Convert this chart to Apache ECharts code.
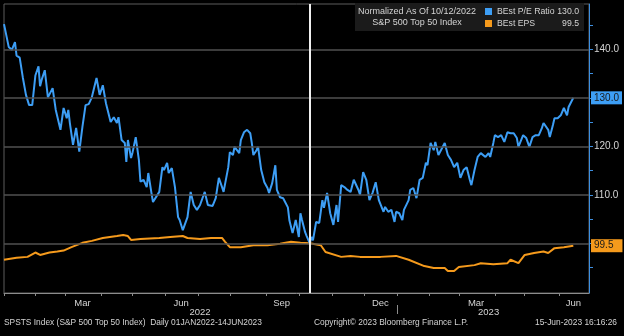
<!DOCTYPE html>
<html><head><meta charset="utf-8">
<script src="https://cdn.jsdelivr.net/npm/echarts@6/dist/echarts.min.js"></script>
<style>html,body{margin:0;padding:0;background:#000;}#c{width:624px;height:336px;}</style>
</head><body><div id="c"></div>
<script>
// ---- data ----
const holidays = ['2022-01-17','2022-02-21','2022-04-15','2022-05-30','2022-06-20','2022-07-04','2022-09-05','2022-11-24','2022-12-26','2023-01-02','2023-01-16','2023-02-20','2023-04-07','2023-05-29','2023-06-19'];
const firstDay = '2022-01-03', lastDay = '2023-06-29';
const normDate = '2022-10-12';
const monthLabels = [['2022-03-16','Mar'],['2022-06-15','Jun'],['2022-09-16','Sep'],['2022-12-15','Dec'],['2023-03-16','Mar'],['2023-06-14','Jun']];
const yearLabels = [['2022-07-05','2022'],['2023-03-28','2023']];
const yearBreak = '2023-01-03';
const yLabelValues = [110,120,130,140];
const yTickValues = [95,100,105,110,115,120,125,130,135,140,145];
const gridValues = [100,110,120,130,140];

const peData = [
 ['2022-01-03',145.2],['2022-01-06',140.5],['2022-01-10',139.9],['2022-01-12',141.5],['2022-01-13',138.7],['2022-01-18',138.3],['2022-01-20',134.2],['2022-01-24',130.6],['2022-01-26',128.5],['2022-01-28',128.5],
 ['2022-02-01',134.6],['2022-02-03',136.5],['2022-02-04',132.4],['2022-02-07',133.7],['2022-02-09',135.7],['2022-02-11',130.1],['2022-02-16',132.0],['2022-02-18',127.5],['2022-02-22',127.1],['2022-02-24',123.4],['2022-02-28',127.9],
 ['2022-03-02',125.8],['2022-03-03',127.5],['2022-03-04',124.8],['2022-03-08',120.3],['2022-03-10',123.8],['2022-03-14',118.9],['2022-03-16',124.0],['2022-03-18',128.5],['2022-03-22',128.7],['2022-03-24',130.1],['2022-03-29',134.1],['2022-03-31',130.6],
 ['2022-04-04',132.6],['2022-04-06',128.9],['2022-04-07',129.1],['2022-04-11',125.0],['2022-04-13',126.0],['2022-04-18',124.8],['2022-04-19',126.0],['2022-04-21',121.3],['2022-04-25',120.7],['2022-04-26',116.8],['2022-04-27',121.3],['2022-04-29',117.6],
 ['2022-05-02',118.8],['2022-05-04',121.9],['2022-05-06',117.2],['2022-05-09',112.7],['2022-05-11',113.1],['2022-05-13',111.6],['2022-05-16',114.5],['2022-05-18',110.4],['2022-05-19',108.5],['2022-05-25',110.6],['2022-05-27',115.7],['2022-05-31',115.1],
 ['2022-06-02',116.6],['2022-06-03',114.5],['2022-06-07',115.5],['2022-06-09',111.6],['2022-06-13',105.4],['2022-06-14',104.8],['2022-06-16',102.7],['2022-06-17',102.7],['2022-06-22',105.4],['2022-06-24',110.6],['2022-06-28',107.9],['2022-06-30',106.9],
 ['2022-07-05',107.9],['2022-07-08',110.6],['2022-07-12',107.9],['2022-07-15',107.7],['2022-07-19',109.3],['2022-07-21',113.5],['2022-07-25',111.6],['2022-07-26',110.6],['2022-07-29',115.7],
 ['2022-08-01',118.8],['2022-08-03',118.2],['2022-08-04',119.9],['2022-08-09',118.6],['2022-08-10',121.3],['2022-08-12',122.9],['2022-08-16',123.4],['2022-08-18',122.7],['2022-08-19',120.7],['2022-08-22',118.2],['2022-08-24',119.2],['2022-08-25',119.9],['2022-08-29',115.1],['2022-08-31',112.6],
 ['2022-09-02',111.4],['2022-09-06',110.4],['2022-09-08',112.4],['2022-09-12',116.1],['2022-09-13',111.0],['2022-09-15',109.5],['2022-09-19',109.3],['2022-09-22',107.4],['2022-09-23',104.7],['2022-09-27',102.1],['2022-09-29',104.8],
 ['2022-10-03',101.3],['2022-10-04',106.2],['2022-10-05',104.8],['2022-10-07',102.3],['2022-10-10',101.5],['2022-10-12',100.0],['2022-10-13',101.3],['2022-10-14',100.6],['2022-10-18',104.4],['2022-10-20',104.2],['2022-10-24',108.9],['2022-10-25',107.3],['2022-10-27',110.4],['2022-10-31',106.2],
 ['2022-11-02',103.8],['2022-11-04',107.9],['2022-11-07',104.4],['2022-11-09',112.0],['2022-11-11',111.6],['2022-11-15',111.0],['2022-11-17',110.6],['2022-11-21',113.1],['2022-11-25',111.0],['2022-11-28',110.0],['2022-11-30',114.7],
 ['2022-12-02',113.1],['2022-12-06',108.9],['2022-12-08',110.4],['2022-12-12',112.6],['2022-12-14',108.9],['2022-12-19',106.5],['2022-12-20',107.5],['2022-12-22',106.5],['2022-12-27',106.9],['2022-12-29',104.4],['2022-12-30',106.5],
 ['2023-01-04',106.2],['2023-01-06',104.8],['2023-01-09',106.9],['2023-01-12',108.9],['2023-01-13',111.0],['2023-01-18',111.4],['2023-01-20',109.3],['2023-01-24',113.1],['2023-01-26',113.5],['2023-01-30',116.6],['2023-01-31',116.1],
 ['2023-02-02',120.7],['2023-02-06',119.2],['2023-02-07',120.9],['2023-02-09',118.2],['2023-02-15',120.7],['2023-02-17',118.2],['2023-02-22',117.2],['2023-02-24',115.7],['2023-02-28',116.6],
 ['2023-03-02',113.5],['2023-03-06',115.1],['2023-03-08',115.7],['2023-03-10',113.1],['2023-03-13',112.0],['2023-03-15',115.1],['2023-03-17',117.8],['2023-03-21',118.6],['2023-03-22',118.6],['2023-03-24',117.8],['2023-03-28',118.6],['2023-03-29',117.8],['2023-03-31',120.7],
 ['2023-04-03',122.3],['2023-04-05',121.9],['2023-04-10',122.3],['2023-04-12',120.9],['2023-04-14',122.9],['2023-04-18',122.7],['2023-04-20',122.7],['2023-04-24',121.7],['2023-04-25',119.9],['2023-04-28',122.3],
 ['2023-05-02',121.7],['2023-05-04',119.9],['2023-05-08',121.9],['2023-05-10',122.3],['2023-05-12',122.3],['2023-05-16',123.8],['2023-05-17',124.8],['2023-05-22',123.4],['2023-05-23',121.9],['2023-05-25',124.4],['2023-05-26',125.8],['2023-05-31',125.8],
 ['2023-06-02',126.4],['2023-06-06',127.9],['2023-06-08',126.4],['2023-06-09',128.1],['2023-06-14',130.0]
];

const epsData = [
 ['2022-01-03',96.6],['2022-01-13',97.0],['2022-01-25',97.2],['2022-02-01',98.1],['2022-02-04',97.6],['2022-02-14',98.1],['2022-02-22',98.3],['2022-02-28',98.5],
 ['2022-03-07',99.2],['2022-03-16',100.1],['2022-03-24',100.5],['2022-04-04',101.1],['2022-04-18',101.5],['2022-04-22',101.7],['2022-04-27',101.5],['2022-04-29',100.7],
 ['2022-05-09',100.9],['2022-05-25',101.1],['2022-06-06',101.3],['2022-06-16',101.5],['2022-06-22',101.1],['2022-07-05',100.9],['2022-07-14',101.1],['2022-07-25',101.1],['2022-07-27',100.3],
 ['2022-08-01',99.2],['2022-08-10',99.2],['2022-08-22',99.6],['2022-09-02',99.6],['2022-09-15',99.9],['2022-09-26',100.3],['2022-10-04',100.1],['2022-10-12',100.0],
 ['2022-10-21',99.6],['2022-10-26',98.2],['2022-11-09',97.2],['2022-11-17',97.4],['2022-11-28',97.2],['2022-12-15',97.2],['2022-12-30',97.4],
 ['2023-01-12',96.6],['2023-01-27',95.3],['2023-02-06',94.9],['2023-02-15',94.9],['2023-02-17',94.3],['2023-02-24',94.3],['2023-03-01',95.1],['2023-03-15',95.5],['2023-03-21',95.9],['2023-03-31',95.7],
 ['2023-04-14',95.9],['2023-04-18',96.6],['2023-04-25',95.9],['2023-05-01',97.6],['2023-05-09',98.0],['2023-05-17',98.3],['2023-05-22',98.0],['2023-05-26',99.0],['2023-06-06',99.2],['2023-06-14',99.5]
];

// ---- build trading-day categories ----
const cats = [];
(function(){
  const hol = new Set(holidays);
  let d = new Date(firstDay + 'T00:00:00Z');
  const end = new Date(lastDay + 'T00:00:00Z');
  while (d <= end) {
    const wd = d.getUTCDay();
    const s = d.toISOString().slice(0,10);
    if (wd !== 0 && wd !== 6 && !hol.has(s)) cats.push(s);
    d = new Date(d.getTime() + 86400000);
  }
})();
const catIndex = {}; cats.forEach((c,i)=>catIndex[c]=i);
const toIdx = arr => arr.map(([d,v]) => [catIndex[d], v]);
const monthMap = new Map(monthLabels), yearMap = new Map(yearLabels);
const monthStart = new Set(cats.filter((c,i)=> i===0 || c.slice(0,7)!==cats[i-1].slice(0,7)));

const FONT = "'Liberation Sans',Arial,sans-serif";
const TXT = '#d4d4d4';
const BLUE = '#3d9ef5', ORANGE = '#f59a1c';
const lastPE = peData[peData.length-1][1], lastEPS = epsData[epsData.length-1][1];

const chart = echarts.init(document.getElementById('c'), null, {renderer:'canvas'});
chart.setOption({
  animation: false,
  backgroundColor: '#000',
  textStyle: {fontFamily: FONT},
  grid: {left: 4, right: 35, top: 4, bottom: 43, show: true, backgroundColor: '#000', borderColor: '#5c5c5c', borderWidth: 1},
  xAxis: [{
    type: 'category', data: cats, boundaryGap: false,
    axisLine: {lineStyle: {color: '#8c8c8c', width: 1}},
    axisTick: {interval: (i, v) => monthStart.has(v), length: 3, lineStyle: {color: '#8c8c8c'}},
    axisLabel: {interval: (i, v) => monthMap.has(v), formatter: v => monthMap.get(v) || '', color: TXT, fontSize: 9.5, fontFamily: FONT, margin: 5},
    splitLine: {show: false}
  },{
    type: 'category', data: cats, boundaryGap: false, position: 'bottom', offset: 12,
    axisLine: {show: false},
    axisTick: {show: true, interval: (i, v) => v === yearBreak, length: 9, lineStyle: {color: '#8c8c8c'}},
    axisLabel: {interval: (i, v) => yearMap.has(v), formatter: v => yearMap.get(v) || '', color: TXT, fontSize: 9.5, fontFamily: FONT, margin: 2},
    splitLine: {show: false}
  }],
  yAxis: {
    type: 'value', position: 'right', min: 89.75, max: 149.35,
    splitLine: {show: false},
    axisLine: {show: true, lineStyle: {color: '#3d8fe0', width: 1}},
    axisTick: {show: true, customValues: yTickValues, length: 4, lineStyle: {color: '#3d8fe0'}},
    axisLabel: {customValues: yLabelValues, formatter: v => v.toFixed(1), color: TXT, fontSize: 10, fontFamily: FONT, margin: 5}
  },
  legend: {
    left: 485, top: 6, orient: 'vertical', padding: 0, itemGap: 1, itemWidth: 7, itemHeight: 7, icon: 'rect',
    data: ['BEst P/E Ratio', 'BEst EPS'],
    formatter: n => '{n|' + n + '}{v|' + (n === 'BEst P/E Ratio' ? lastPE : lastEPS).toFixed(1) + '}',
    textStyle: {color: TXT, fontFamily: FONT, fontSize: 8.7, lineHeight: 11,
      rich: {n: {width: 56, color: TXT, fontFamily: FONT, fontSize: 8.7}, v: {width: 26, align: 'right', color: TXT, fontFamily: FONT, fontSize: 8.7}}},
    z: 20
  },
  graphic: [
    {type: 'rect', shape: {x: 355, y: 3, width: 229, height: 28}, style: {fill: '#1b1b1b'}, z: 10},
    {type: 'text', x: 417, y: 12, z: 11, style: {text: 'Normalized As Of 10/12/2022', fill: TXT, font: '9px ' + FONT, align: 'center', verticalAlign: 'middle'}},
    {type: 'text', x: 417, y: 23, z: 11, style: {text: 'S&P 500 Top 50 Index', fill: TXT, font: '9px ' + FONT, align: 'center', verticalAlign: 'middle'}},
    {type: 'text', x: 4, y: 323, z: 11, style: {text: 'SPSTS Index (S&P 500 Top 50 Index)  Daily 01JAN2022-14JUN2023', fill: TXT, font: '8.4px ' + FONT, align: 'left', verticalAlign: 'middle'}},
    {type: 'text', x: 391, y: 323, z: 11, style: {text: 'Copyright\u00A9 2023 Bloomberg Finance L.P.', fill: TXT, font: '8.4px ' + FONT, align: 'center', verticalAlign: 'middle'}},
    {type: 'text', x: 617, y: 323, z: 11, style: {text: '15-Jun-2023 16:16:26', fill: TXT, font: '8.4px ' + FONT, align: 'right', verticalAlign: 'middle'}}
  ],
  series: [
    {
      type: 'line', data: [], silent: true, z: 1,
      markLine: {
        silent: true, symbol: 'none', animation: false,
        label: {show: false},
        data: gridValues.map(v => ({yAxis: v, lineStyle: {color: '#505050', width: 1.5, type: 'solid'}}))
          .concat([{xAxis: catIndex[normDate], lineStyle: {color: '#f0f0f0', width: 2, type: 'solid'}}])
      }
    },
    {
      name: 'BEst EPS', type: 'line', data: toIdx(epsData), showSymbol: false, z: 3,
      color: ORANGE, lineStyle: {color: ORANGE, width: 2},
      markLine: {silent: true, symbol: 'none', animation: false,
        data: [{yAxis: lastEPS, lineStyle: {color: 'rgba(0,0,0,0)', width: 0},
          label: {show: true, opacity: 1, position: 'end', distance: 2, formatter: lastEPS.toFixed(1), backgroundColor: ORANGE, color: '#1a1a1a', fontFamily: FONT, fontSize: 10, padding: [2, 9, 1, 3]}}]}
    },
    {
      name: 'BEst P/E Ratio', type: 'line', data: toIdx(peData), showSymbol: false, z: 4,
      color: BLUE, lineStyle: {color: BLUE, width: 2},
      markLine: {silent: true, symbol: 'none', animation: false,
        data: [{yAxis: lastPE, lineStyle: {color: 'rgba(0,0,0,0)', width: 0},
          label: {show: true, opacity: 1, position: 'end', distance: 2, formatter: lastPE.toFixed(1), backgroundColor: BLUE, color: '#1a1a1a', fontFamily: FONT, fontSize: 10, padding: [2, 3, 1, 3]}}]}
    }
  ]
});
</script></body></html>
